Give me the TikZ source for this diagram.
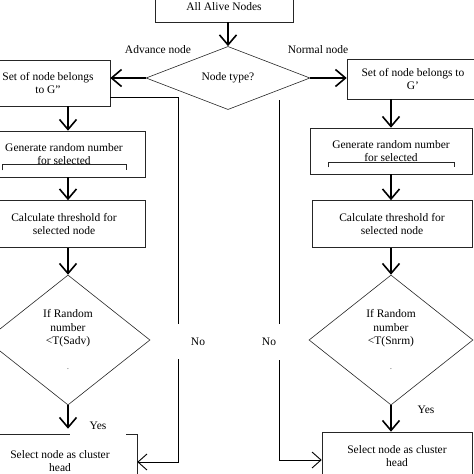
\documentclass[tikz,border=0pt]{standalone}
\usepackage{fontspec}
\setmainfont{Liberation Serif}
\usetikzlibrary{arrows.meta,positioning,calc,shapes.geometric}

\begin{document}
\begin{tikzpicture}[x=1pt,y=-1pt,
  txt/.style={font=\fontsize{11.5}{13.5}\selectfont},
  box/.style={txt,draw=black!85,line width=0.6pt,align=center,inner sep=0pt},
  dec/.style={txt,diamond,draw=black!85,line width=0.6pt,align=center,inner sep=0pt,minimum width=164pt,minimum height=130pt},
  arr/.style={line width=1.6pt,-{Straight Barb[length=10pt,width=17pt]}},
  noline/.style={line width=0.9pt,-{Straight Barb[length=9pt,width=16pt]}},
  nolbl/.style={txt,fill=white,inner xsep=15pt,inner ysep=14pt}]
  \useasboundingbox (0,0) rectangle (474,474);
  \clip (0,0) rectangle (474,474);

  % top
  \node[box,minimum width=138pt,minimum height=30pt] (alive) at (224,7) {All Alive Nodes};
  \node[dec,minimum width=164pt,minimum height=58pt] (type) at (228,78) {Node type?};
  \node[txt] (advlbl) at (158,50) {Advance node};
  \node[txt] (nrmlbl) at (318,50) {Normal node};

  % left column (advance nodes)
  \node[box,minimum width=124pt,minimum height=46pt] (setL) at (48,83) {Set of node belongs\\to G''};
  \node[box,minimum width=162pt,minimum height=46pt] (genL) at (64,154) {Generate random number\\for selected};
  \node[box,minimum width=162pt,minimum height=47pt] (calcL) at (64,224) {Calculate threshold for\\selected node};
  \node[dec] (decL) at (68,340) {If Random\\number\\<T(Sadv)\\[12pt]{\tiny -}};
  \node[box,minimum width=154pt,minimum height=54pt] (selL) at (60,461) {Select node as cluster\\head};
  \node[txt,fill=white,minimum width=56pt,minimum height=20pt] (yesL) at (98,426) {Yes};

  % right column (normal nodes)
  \node[box,minimum width=132pt,minimum height=40pt] (setR) at (413,79) {Set of node belongs to\\G'};
  \node[box,minimum width=162pt,minimum height=46pt] (genR) at (391,151) {Generate random number\\for selected};
  \node[box,minimum width=160pt,minimum height=47pt] (calcR) at (392,224) {Calculate threshold for\\selected node};
  \node[dec] (decR) at (391,340) {If Random\\number\\<T(Snrm)\\[12pt]{\tiny -}};
  \node[box,minimum width=150pt,minimum height=48pt] (selR) at (397,456) {Select node as cluster\\head};
  \node[txt] (yesR) at (426,410) {Yes};

  % brackets under "for selected"
  \draw[black!85,line width=0.8pt] ([shift={(-62,-7)}]genL.south) -- ++(0,-6) -- ++(124,0) -- ++(0,6);
  \draw[black!85,line width=0.8pt] ([shift={(-63,-7)}]genR.south) -- ++(0,-5) -- ++(126,0) -- ++(0,5);

  % arrows
  \draw[arr] (alive.south -| type.north) -- (type.north);
  \draw[arr] (type.west) -- (type.west -| setL.east);
  \draw[arr] (type.east) -- (type.east -| setR.west);
  \draw[arr] (setL.south -| decL) -- (genL.north -| decL);
  \draw[arr] (genL.south -| decL) -- (calcL.north -| decL);
  \draw[arr] (calcL.south -| decL) -- (decL.north);
  \draw[arr,shorten >=5pt] (decL.south) -- (selL.north -| decL);
  \draw[arr] (setR.south -| decR) -- (genR.north -| decR);
  \draw[arr] (genR.south -| decR) -- (calcR.north -| decR);
  \draw[arr] (calcR.south -| decR) -- (decR.north);
  \draw[arr] (decR.south) -- (selR.north -| decR);

  % "No" branches
  \coordinate (noLtop) at (178,97);
  \coordinate (noLbot) at (178,462);
  \draw[noline] (setL.east |- noLtop) -- (noLtop) -- node[nolbl,pos=0.67,xshift=20pt] (noL) {No} (noLbot) -- (noLbot -| selL.east);
  \coordinate (noRtop) at (279,100);
  \coordinate (noRbot) at (279,460);
  \draw[noline] (noRtop) -- node[nolbl,pos=0.672,xshift=-10pt] (noR) {No} (noRbot) -- (noRbot -| selR.west);
\end{tikzpicture}
\end{document}
